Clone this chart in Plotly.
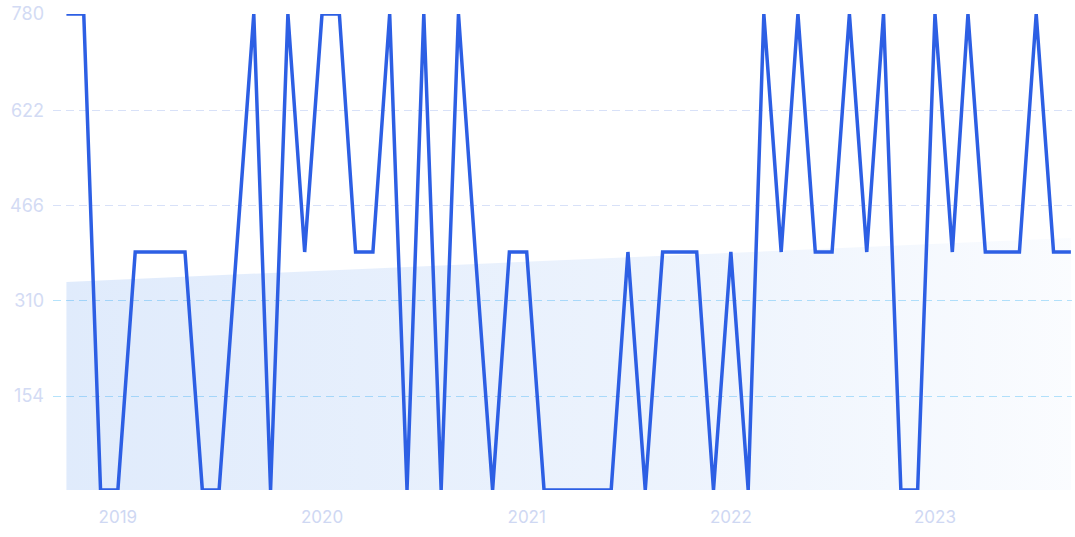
import plotly.graph_objects as go
import pandas as pd

# Monthly data, Oct 2018 .. Sep 2023
dates = pd.date_range("2018-10-01", periods=60, freq="MS")
values = [
    780, 780, 0, 0, 390, 390, 390, 390, 0, 0,
    390, 780, 0, 780, 390, 780, 780, 390, 390, 780,
    0, 780, 0, 780, 390, 0, 390, 390, 0, 0,
    0, 0, 0, 390, 0, 390, 390, 390, 0, 390,
    0, 780, 390, 780, 390, 390, 780, 390, 780, 0,
    0, 780, 390, 780, 390, 390, 390, 780, 390, 390,
]
trend_dates = ["2018-10-01", "2023-09-01"]
trend_values = [341, 413]

ytick_vals = [154, 310, 466, 622, 780]
ytick_text = ["154", "310", "466", "622", "780"]
upper_grid = [466, 622, 780]
lower_grid = [154, 310]

fig = go.Figure()
fig.add_trace(go.Scatter(
    x=trend_dates, y=trend_values, mode="lines",
    line=dict(width=0),
    fill="tozeroy",
    fillgradient=dict(type="horizontal",
                      colorscale=[[0, "rgba(60,130,235,0.16)"],
                                  [0.6, "rgba(60,130,235,0.095)"],
                                  [1, "rgba(60,130,235,0.025)"]]),
    hoverinfo="skip", showlegend=False,
))
fig.add_trace(go.Scatter(
    x=dates, y=values, mode="lines",
    line=dict(color="#2d5fe4", width=3.5),
    showlegend=False,
))
# secondary axes only carry the two grid colours
fig.add_trace(go.Scatter(x=[dates[0]], y=[0], yaxis="y2", mode="markers",
                         marker=dict(opacity=0), hoverinfo="skip", showlegend=False))
fig.add_trace(go.Scatter(x=[dates[0]], y=[0], yaxis="y3", mode="markers",
                         marker=dict(opacity=0), hoverinfo="skip", showlegend=False))

fig.update_layout(
    width=1075, height=537,
    margin=dict(l=53, r=3, t=12, b=47),
    paper_bgcolor="white", plot_bgcolor="rgba(0,0,0,0)",
    font=dict(family="Inter, Roboto, sans-serif", color="#d0d9f3"),
    xaxis=dict(
        type="date",
        range=["2018-09-07", "2023-09-03"],
        tick0="2019-01-01", dtick="M12", tickformat="%Y",
        showgrid=False, zeroline=False, showline=False, ticks="",
        tickfont=dict(size=17, color="#cfd8f3"),
        ticklabelstandoff=15,
    ),
    yaxis=dict(
        range=[0, 780],
        tickvals=ytick_vals, ticktext=ytick_text,
        showgrid=False, zeroline=False, showline=False, ticks="",
        tickfont=dict(size=18, color="#d3dbf4"),
        ticklabelstandoff=8,
    ),
    yaxis2=dict(
        range=[0, 780], overlaying="y", side="left",
        tickvals=lower_grid, showticklabels=False,
        showgrid=True, gridcolor="#b5e3fb", griddash="8px,5px", gridwidth=1,
        zeroline=False, showline=False, ticks="",
    ),
    yaxis3=dict(
        range=[0, 780], overlaying="y", side="left",
        tickvals=upper_grid, showticklabels=False,
        showgrid=True, gridcolor="#d8e1f8", griddash="8px,5px", gridwidth=1,
        zeroline=False, showline=False, ticks="",
    ),
)

fig.write_html("out.html", config={"displayModeBar": False},
               post_script="document.body.style.margin='0px';document.body.style.overflow='hidden';")
